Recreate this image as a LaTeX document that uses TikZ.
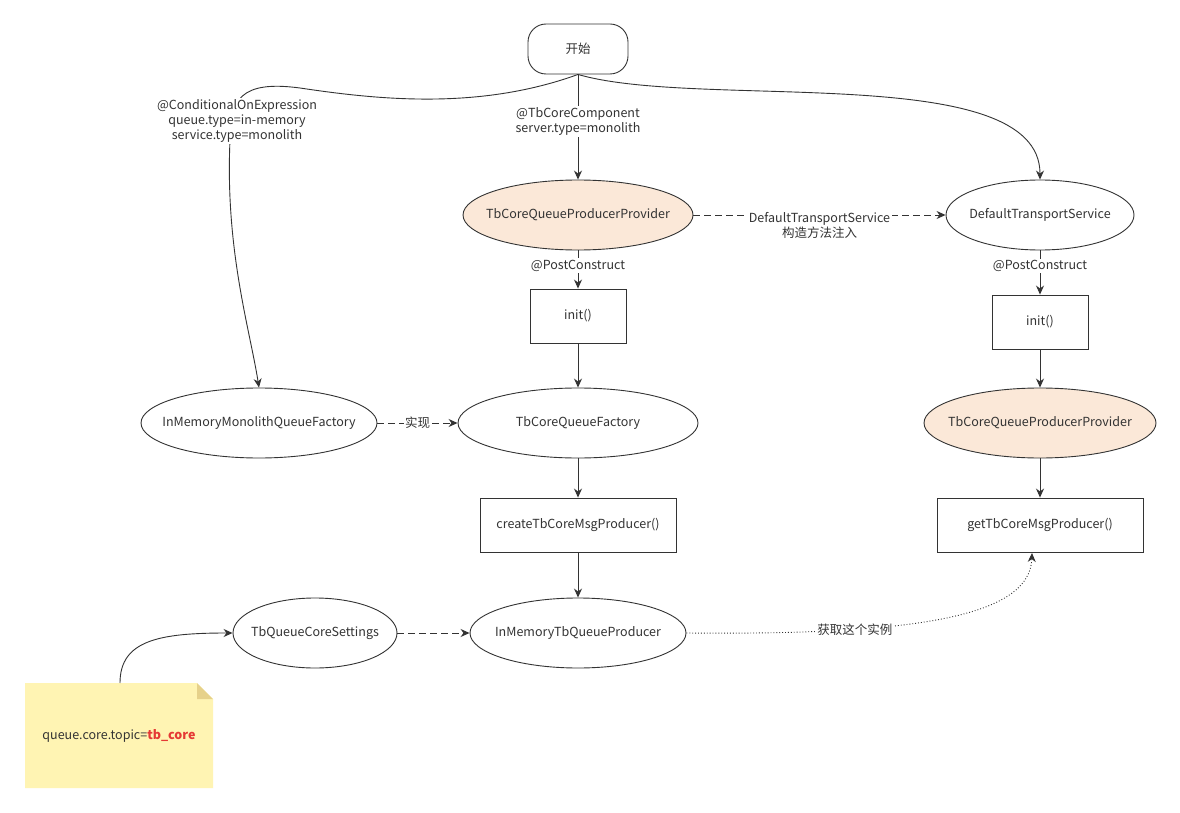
\documentclass[tikz,border=0pt]{standalone}
\usepackage{fontspec}
\setmainfont{Noto Sans CJK SC}
\usetikzlibrary{arrows.meta,shapes.geometric}
\definecolor{ln}{HTML}{333333}
\definecolor{pe}{HTML}{FBE8D8}
\definecolor{ny}{HTML}{FFF4B3}
\definecolor{nf}{HTML}{E6D18A}
\definecolor{rd}{HTML}{E53935}
\tikzset{
 every node/.style={font=\fontsize{12.5}{15}\selectfont,text=ln},
 ell/.style={ellipse,draw=ln,line width=0.9pt,fill=white,minimum height=70pt,inner sep=0pt,label={center:#1}},
 box/.style={rectangle,draw=ln,line width=0.9pt,fill=white,minimum height=54pt},
 arr/.style={draw=ln,line width=0.9pt,-{Stealth[length=9pt,width=8pt]}},
 dsh/.style={dash pattern=on 7pt off 4pt},
 lab/.style={fill=white,inner sep=1.5pt,align=center}
}
\begin{document}
\begin{tikzpicture}[x=1pt,y=-1pt]
\useasboundingbox[fill=white] (0,0) rectangle (1180,813);
\node[draw=ln,line width=0.9pt,rounded corners=18pt,minimum width=100pt,minimum height=50pt] (start) at (578,49) {开始};
\node[ell=TbCoreQueueProducerProvider,fill=pe,minimum width=230pt] (p1) at (578,215) {};
\node[box,minimum width=96pt] (i1) at (578,316) {init()};
\node[ell=TbCoreQueueFactory,minimum width=240pt] (f) at (578,423) {};
\node[box,minimum width=196pt] (c) at (578,525) {createTbCoreMsgProducer()};
\node[ell=InMemoryTbQueueProducer,minimum width=216pt] (m) at (578,633) {};
\node[ell=TbQueueCoreSettings,minimum width=164pt] (s) at (315,633) {};
\node[ell=InMemoryMonolithQueueFactory,minimum width=236pt] (mf) at (259,423) {};
\node[ell=DefaultTransportService,minimum width=188pt] (d) at (1040,215) {};
\node[box,minimum width=96pt] (i2) at (1040,322) {init()};
\node[ell=TbCoreQueueProducerProvider,fill=pe,minimum width=232pt] (p2) at (1040,423) {};
\node[box,minimum width=206pt] (g) at (1040,525) {getTbCoreMsgProducer()};
% note
\fill[ny] (25,683) -- (197,683) -- (213,699) -- (213,788) -- (25,788) -- cycle;
\fill[nf] (197,683) -- (213,699) -- (197,699) -- cycle;
\node (note) at (119,736) {queue.core.topic=\textcolor{rd}{\textbf{tb\_core}}};
\coordinate (nt) at (120,683);
% edges
\draw[arr] (start) -- (p1) node[lab,pos=0.45] {@TbCoreComponent\\server.type=monolith};
\draw[arr] (start.south) .. controls (700,110) and (1040,60) .. (d.north);
\draw[arr] (start.south) .. controls (480,110) and (380,100) .. (300,88) .. controls (240,80) and (230,100) .. (230,140) .. controls (225,250) and (250,330) .. (mf.north);
\node[lab] at (237,121) {@ConditionalOnExpression\\queue.type=in-memory\\service.type=monolith};
\draw[arr] (p1) -- (i1) node[lab,pos=0.4] {@PostConstruct};
\draw[arr] (i1) -- (f);
\draw[arr] (f) -- (c);
\draw[arr] (c) -- (m);
\draw[arr] (d) -- (i2) node[lab,pos=0.35] {@PostConstruct};
\draw[arr] (i2) -- (p2);
\draw[arr] (p2) -- (g);
\draw[arr,dsh] (p1) -- (d) node[lab,midway,yshift=-10pt] {DefaultTransportService\\构造方法注入};
\draw[arr,dsh] (mf) -- (f) node[lab,midway] {实现};
\draw[arr,dsh] (s) -- (m);
\draw[arr,dotted] (m.east) .. controls (900,635) and (1030,620) .. (1032,553) node[lab,pos=0.3] {获取这个实例};
\draw[arr] (nt) .. controls (120,640) and (160,633) .. (s.west);
\end{tikzpicture}
\end{document}
